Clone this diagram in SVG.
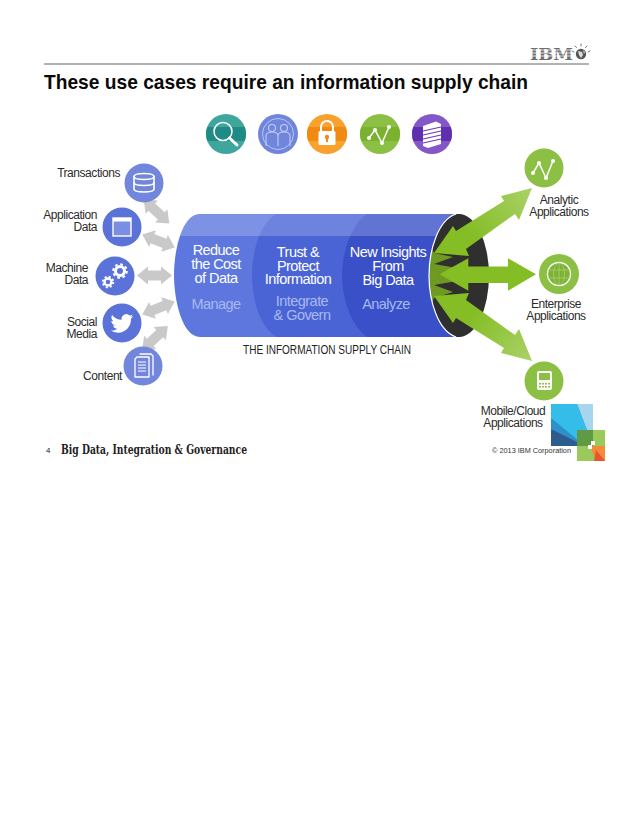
<svg xmlns="http://www.w3.org/2000/svg" width="638" height="826" viewBox="0 0 638 826">
<style>
text{font-family:"Liberation Sans",Arial,sans-serif}
.lb{font-size:12px;letter-spacing:-.45px;fill:#2b2b2b}
.e{text-anchor:end}
.m{text-anchor:middle}
.cw{font-size:14.5px;letter-spacing:-.55px;fill:#fff;text-anchor:middle}
.cs{font-size:14.5px;letter-spacing:-.55px;fill:#a9b9f0;text-anchor:middle}
.ws{fill:none;stroke:#fff;stroke-linecap:round;stroke-linejoin:round}
.wf{fill:#fff}
.b1{fill:#7286dc}
.b2{fill:#5b72d8}
.g{fill:#8cc044}
.ga{fill:#c9c9c9}
</style>
<defs>
<polygon id="dbl" points="-17.5,0 -6.5,-9 -6.5,-5 6.5,-5 6.5,-9 17.5,0 6.5,9 6.5,5 -6.5,5 -6.5,9"/>
<linearGradient id="gr1" gradientUnits="userSpaceOnUse" x1="470" y1="235" x2="530" y2="190"><stop offset="0" stop-color="#84bd24"/><stop offset="1" stop-color="#a9d165"/></linearGradient>
<linearGradient id="gr3" gradientUnits="userSpaceOnUse" x1="470" y1="314" x2="530" y2="359"><stop offset="0" stop-color="#84bd24"/><stop offset="1" stop-color="#a9d165"/></linearGradient>
<clipPath id="cyl"><path d="M200 214C182 214 174 250 174 275C174 300 182 337 200 337H460V214Z"/></clipPath>
<clipPath id="hole"><ellipse cx="459" cy="275.5" rx="30" ry="61.5"/></clipPath>
<clipPath id="c1"><circle cx="226" cy="134" r="20"/></clipPath>
<clipPath id="c3"><circle cx="327" cy="134" r="20"/></clipPath>
<clipPath id="c4"><circle cx="380" cy="134" r="20"/></clipPath>
<clipPath id="c5"><circle cx="432" cy="134" r="20"/></clipPath>
</defs>
<rect width="638" height="826" fill="#fff"/>

<g id="header">
<line x1="44" y1="64" x2="589" y2="64" stroke="#666" stroke-width="1"/>
<text x="44" y="89" font-size="20.5" font-weight="700" fill="#0a0a0a" textLength="484" lengthAdjust="spacingAndGlyphs">These use cases require an information supply chain</text>
</g>
<g id="ibm-logo">
<text x="530" y="60" font-size="17" font-weight="700" fill="#6f6f6f" style="font-family:'DejaVu Serif',serif" textLength="43" lengthAdjust="spacingAndGlyphs">IBM</text>
<g stroke="#fff" stroke-width=".8"><line x1="528" y1="50" x2="575" y2="50"/><line x1="528" y1="53" x2="575" y2="53"/><line x1="528" y1="56" x2="575" y2="56"/></g>
<circle cx="581" cy="54" r="5.2" fill="#555"/>
<path d="M578 51l4 1 1 3-2 3-2-3zM583 50l2 2-1 2z" fill="#ddd"/>
<g stroke="#777" stroke-width="1" stroke-linecap="round"><line x1="581" y1="44" x2="581" y2="46"/><line x1="575" y1="46" x2="576.5" y2="47.5"/><line x1="587" y1="46" x2="585.5" y2="47.5"/><line x1="572" y1="51" x2="574" y2="52"/><line x1="590" y1="51" x2="588" y2="52"/></g>
</g>

<g id="top-search">
<circle cx="226" cy="134" r="20" fill="#3fa69e"/><rect x="206" y="127" width="40" height="14" fill="#1f8b84" clip-path="url(#c1)"/>
<circle cx="223" cy="131.500" r="9" class="ws" stroke-width="1.500"/><line x1="229.500" y1="138" x2="237" y2="145" class="ws" stroke-width="3"/>
</g>
<g id="top-people">
<circle cx="278" cy="134" r="20" fill="#7086dc"/><circle cx="278" cy="134" r="15.500" fill="none" stroke="#b9c5f0" stroke-width="1"/>
<g fill="none" stroke="#c3cdf3" stroke-width="1.100"><circle cx="272" cy="128" r="3.500"/><circle cx="284" cy="128" r="3.500"/><path d="M266 146V136Q266 132 272 132Q278 132 278 136V146M278 136Q278 132 284 132Q290 132 290 136V146"/></g>
</g>
<g id="top-lock">
<circle cx="327" cy="134" r="20" fill="#f9a12e"/><rect x="307" y="127" width="40" height="14" fill="#f08a10" clip-path="url(#c3)"/>
<path d="M321 132V127a6 6 0 0 1 12 0V132" class="ws" stroke-width="2"/><rect x="318.500" y="131" width="17" height="14" rx="1.500" class="wf"/><circle cx="327" cy="137" r="2.200" fill="#f08a10"/><rect x="326" y="138" width="2" height="4" fill="#f08a10"/>
</g>
<g id="top-analytics">
<circle cx="380" cy="134" r="20" fill="#8cc044"/><rect x="360" y="127" width="40" height="14" fill="#7ab22f" clip-path="url(#c4)"/>
<polyline points="369,138 375,130 382,143 389,127" class="ws" stroke-width="1.500"/>
<g class="wf"><circle cx="369" cy="138" r="2"/><circle cx="375" cy="130" r="2"/><circle cx="382" cy="143" r="2"/><circle cx="389" cy="127" r="2"/></g>
</g>
<g id="top-stack">
<circle cx="432" cy="134" r="20" fill="#8457c8"/><rect x="412" y="127" width="40" height="14" fill="#5f2fb0" clip-path="url(#c5)"/>
<path d="M423 126L436 121.500L441 124V144L428 148L423 146Z" class="wf"/>
<g stroke="#6a3ab8" stroke-width="1.100"><line x1="423" y1="131" x2="441" y2="127"/><line x1="423" y1="135" x2="441" y2="131"/><line x1="423" y1="139" x2="441" y2="135"/><line x1="423" y1="143" x2="441" y2="139"/></g>
</g>

<g id="connectors">
<g class="ga">
<use href="#dbl" transform="translate(156.500,211.500) rotate(43)"/>
<use href="#dbl" transform="translate(158.500,241) rotate(22)"/>
<use href="#dbl" transform="translate(154.500,275.500)"/>
<use href="#dbl" transform="translate(158.500,308) rotate(-22)"/>
<use href="#dbl" transform="translate(155,338) rotate(-43)"/>
</g>
</g>

<g id="supply-chain">
<path d="M200 214C182 214 174 250 174 275C174 300 182 337 200 337H460V214Z" fill="#5e77df"/>
<g clip-path="url(#cyl)">
<path d="M276 214C258 225 252 255 252 275C252 297 258 325 276 337H470V214Z" fill="#4a64d6"/>
<path d="M367 214C350 225 342 255 342 275C342 297 350 325 367 337H470V214Z" fill="#3a50c9"/>
<rect x="170" y="214" width="300" height="22" fill="#fff" opacity=".2"/>
</g>
<ellipse cx="459" cy="275.500" rx="30" ry="61.500" fill="#2f2f2f"/>
<g clip-path="url(#hole)"><path d="M425 235L434 253L453 257L434 264L457 268L439 274.300L457 281L434 285L453 292L434 298L425 316Z" fill="#6f9a22"/></g>
<path d="M456 214C438 220 429 250 429 275.500C429 301 438 331 456 337" fill="none" stroke="#fff" stroke-width="1.200"/>
<text class="cw" x="216" y="255">Reduce</text><text class="cw" x="216" y="269">the Cost</text><text class="cw" x="216" y="283">of Data</text>
<text class="cs" x="216" y="309">Manage</text>
<text class="cw" x="298" y="257">Trust &amp;</text><text class="cw" x="298" y="271">Protect</text><text class="cw" x="298" y="284">Information</text>
<text class="cs" x="302" y="306">Integrate</text><text class="cs" x="302" y="320">&amp; Govern</text>
<text class="cw" x="388" y="257">New Insights</text><text class="cw" x="388" y="271">From</text><text class="cw" x="388" y="285">Big Data</text>
<text class="cs" x="386" y="309">Analyze</text>
<text x="243" y="354" font-size="12" fill="#222" textLength="168" lengthAdjust="spacingAndGlyphs">THE INFORMATION SUPPLY CHAIN</text>
</g>

<g id="green-connectors">
<polygon fill="url(#gr1)" points="532,188 501,196 504,201 456,231 453,226 434,253 469,256 466,249 515,214 519,220"/>
<polygon fill="#84bd24" points="536,274.300 508,258.300 508,266.500 468.300,266.500 468.300,258.300 439.300,274.300 468.300,290.700 468.300,283 508,283 508,290.700"/>
<polygon fill="url(#gr3)" points="532,361 501,353 504,348 456,318 453,323 434,296 469,293 466,300 515,335 519,329"/>
</g>

<g id="src-transactions">
<text class="lb e" x="120" y="177">Transactions</text>
<circle class="b1" cx="144" cy="183" r="19.500"/>
<path d="M134 176.500c0-4 20-4 20 0V189c0 4-20 4-20 0Z" class="ws" stroke-width="1.600"/>
<path d="M134 176.500c0 4 20 4 20 0M134 182.500c0 4 20 4 20 0" class="ws" stroke-width="1.600"/>
</g>
<g id="src-application">
<text class="lb e" x="97" y="219">Application</text><text class="lb e" x="97" y="231">Data</text>
<circle class="b2" cx="122" cy="227" r="19.500"/>
<rect x="113" y="218" width="18" height="18" fill="#7a8fe2" stroke="#fff" stroke-width="1.400"/><rect x="113" y="218" width="18" height="3.500" class="wf"/>
</g>
<g id="src-machine">
<text class="lb e" x="88" y="272">Machine</text><text class="lb e" x="88" y="284">Data</text>
<circle class="b2" cx="115" cy="276" r="19.500"/>
<circle cx="120" cy="271" r="4.500" fill="none" stroke="#fff" stroke-width="3"/><circle cx="120" cy="271" r="6.800" fill="none" stroke="#fff" stroke-width="2" stroke-dasharray="2.700 2.640"/>
<circle cx="108" cy="282" r="3.500" fill="none" stroke="#fff" stroke-width="2.400"/><circle cx="108" cy="282" r="5.300" fill="none" stroke="#fff" stroke-width="1.800" stroke-dasharray="2.100 2.060"/>
</g>
<g id="src-social">
<text class="lb e" x="97" y="326">Social</text><text class="lb e" x="97" y="338">Media</text>
<circle class="b2" cx="122" cy="323" r="19.500"/>
<path transform="translate(110.500,312) scale(.95)" class="wf" d="M23.953 4.570a10 10 0 01-2.825.775 4.958 4.958 0 002.163-2.723c-.951.555-2.005.959-3.127 1.184a4.920 4.920 0 00-8.384 4.482C7.690 8.095 4.067 6.130 1.640 3.162a4.822 4.822 0 00-.666 2.475c0 1.710.870 3.213 2.188 4.096a4.904 4.904 0 01-2.228-.616v.060a4.923 4.923 0 003.946 4.827 4.996 4.996 0 01-2.212.085 4.936 4.936 0 004.604 3.417 9.867 9.867 0 01-6.102 2.105c-.390 0-.779-.023-1.170-.067a13.995 13.995 0 007.557 2.209c9.053 0 13.998-7.496 13.998-13.985 0-.210 0-.420-.015-.630A9.935 9.935 0 0024 4.590z"/>
</g>
<g id="src-content">
<text class="lb e" x="122" y="380">Content</text>
<circle class="b1" cx="143" cy="366" r="19.500"/>
<path d="M137 357h12v20h-14v-18Z M140 354h11l2 2v19" class="ws" stroke-width="1.300"/>
<g stroke="#fff" stroke-width="1"><line x1="138" y1="362" x2="146" y2="362"/><line x1="138" y1="365" x2="146" y2="365"/><line x1="138" y1="368" x2="146" y2="368"/><line x1="138" y1="371" x2="146" y2="371"/></g>
</g>

<g id="app-analytic">
<circle class="g" cx="544" cy="168" r="19.500"/>
<polyline points="533,173 539,163 546,178 553,161" class="ws" stroke-width="1.500"/>
<g class="wf"><circle cx="533" cy="173" r="2"/><circle cx="539" cy="163" r="2"/><circle cx="546" cy="178" r="2"/><circle cx="553" cy="161" r="2"/></g>
<text class="lb m" x="559" y="204">Analytic</text><text class="lb m" x="559" y="216">Applications</text>
</g>
<g id="app-enterprise">
<circle class="g" cx="559" cy="274" r="20"/>
<circle cx="559" cy="274" r="11.500" fill="#7cb236" stroke="#fff" stroke-width="1.400"/>
<g fill="none" stroke="#a9d070" stroke-width=".8"><ellipse cx="559" cy="274" rx="5.500" ry="11"/><line x1="559" y1="263" x2="559" y2="285"/><line x1="548" y1="270" x2="570" y2="270"/><line x1="548" y1="278" x2="570" y2="278"/></g>
<text class="lb m" x="556" y="308">Enterprise</text><text class="lb m" x="556" y="320">Applications</text>
</g>
<g id="app-mobile">
<circle class="g" cx="544" cy="381" r="19.500"/>
<rect x="537" y="371" width="15" height="19" rx="2" class="wf"/><rect x="539" y="373" width="11" height="7" fill="#8cc044"/>
<g fill="#8cc044"><rect x="539" y="383" width="2" height="1.500"/><rect x="542" y="383" width="2" height="1.500"/><rect x="545" y="383" width="2" height="1.500"/><rect x="548" y="383" width="2" height="1.500"/><rect x="539" y="386" width="2" height="1.500"/><rect x="542" y="386" width="2" height="1.500"/><rect x="545" y="386" width="2" height="1.500"/><rect x="548" y="386" width="2" height="1.500"/></g>
<text class="lb m" x="513" y="415">Mobile/Cloud</text><text class="lb m" x="513" y="427">Applications</text>
</g>

<g id="footer">
<rect x="551" y="404" width="42" height="42" fill="#2f8fcb"/>
<polygon points="577,404 593,404 593,446" fill="#a7d5ee"/>
<polygon points="551,404 577,404 593,446 585,446 551,418" fill="#35bdea"/>
<polygon points="551,429 585,446 551,446" fill="#2f5c8f"/>
<rect x="577" y="430" width="28" height="31" fill="#9cc95c"/>
<rect x="577" y="430" width="16" height="16" fill="#5f9b45"/>
<polygon points="590,446 605,446 605,461 596,461" fill="#f58a3c"/>
<polygon points="596,450 605,461 594,461" fill="#e4572e"/>
<rect x="591" y="441" width="4" height="4" fill="#fff"/><rect x="588" y="445" width="4" height="4" fill="#fff"/>
<text x="46" y="453" font-size="8" fill="#222">4</text>
<text x="61" y="453.500" font-size="12" font-weight="700" fill="#222" style="font-family:'DejaVu Serif',serif" textLength="186" lengthAdjust="spacingAndGlyphs">Big Data, Integration &amp; Governance</text>
<text x="492" y="453" font-size="8" fill="#333" textLength="79" lengthAdjust="spacingAndGlyphs">© 2013 IBM Corporation</text>
</g>
</svg>
